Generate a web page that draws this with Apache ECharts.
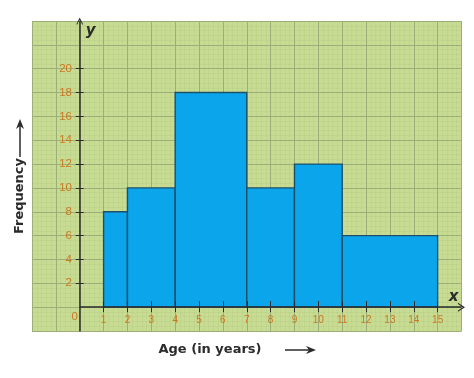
<!DOCTYPE html>
<html>
<head>
<meta charset="utf-8">
<script src="https://cdn.jsdelivr.net/npm/echarts@6/dist/echarts.min.js"></script>
<style>
  html, body { margin: 0; padding: 0; background: #fff; }
  #chart { width: 474px; height: 378px; }
</style>
</head>
<body>
<div id="chart"></div>
<script>
// class intervals (age in years) and their frequencies
const ageStart = [1, 2, 4, 7, 9, 11]
const ageEnd = [2, 4, 7, 9, 11, 15]
const frequency = [8, 10, 18, 10, 12, 6]
// tick labels
const xTicks = [1, 2, 3, 4, 5, 6, 7, 8, 9, 10, 11, 12, 13, 14, 15]
const yTicks = [2, 4, 6, 8, 10, 12, 14, 16, 18, 20]

const labelColor = '#cc7722'
const inkColor = '#2b2b2b'
const chevron = 'path://M0,10 L5,0 L10,10 L8.6,10 L5,3.2 L1.4,10 Z'

const chart = echarts.init(document.getElementById('chart'))

function renderBar (params, api) {
  const p0 = api.coord([api.value(0), 0])
  const p1 = api.coord([api.value(1), api.value(2)])
  return {
    type: 'rect',
    shape: { x: p0[0], y: p1[1], width: p1[0] - p0[0], height: p0[1] - p1[1] },
    style: { fill: '#0ba5ec', stroke: '#1e4f6a', lineWidth: 1.4 }
  }
}

// background grid axis (split lines only)
function bgAxis (min, max, interval) {
  return {
    type: 'value',
    min: min,
    max: max,
    interval: interval,
    axisLine: { show: false, onZero: false },
    axisTick: { show: false },
    axisLabel: { show: false },
    minorTick: { show: false, splitNumber: 5 },
    splitLine: { show: true, lineStyle: { color: '#9caf79', width: 1 } },
    minorSplitLine: { show: true, lineStyle: { color: 'rgba(150,175,105,0.14)', width: 1 } }
  }
}

const option = {
  animation: false,
  grid: {
    left: 32,
    right: 12.5,
    top: 21,
    bottom: 47,
    show: true,
    backgroundColor: '#c7dc92',
    borderWidth: 0
  },
  xAxis: [
    bgAxis(-2, 16, 1),
    {
      type: 'value',
      position: 'bottom',
      min: -2,
      max: 16,
      interval: 1,
      axisLine: { show: false, onZero: true },
      splitLine: { show: false },
      axisTick: { show: true, length: 5, customValues: xTicks, lineStyle: { color: inkColor, width: 1 } },
      axisLabel: {
        customValues: [0].concat(xTicks),
        // labels stay at the grid edge, pull them up to the zero line
        margin: -16,
        color: labelColor,
        fontSize: 10,
        fontFamily: 'Liberation Sans',
        formatter: function (v) {
          return v === 0 ? '{o|0}' : String(v)
        },
        rich: {
          o: { fontSize: 11.5, color: labelColor, padding: [0, 10, 0, 0], lineHeight: 4, fontFamily: 'Liberation Sans' }
        }
      }
    },
    {
      type: 'value',
      position: 'bottom',
      z: 10,
      min: -2,
      max: 16,
      interval: 1,
      axisLine: { show: false, onZero: true },
      splitLine: { show: false },
      axisLabel: { show: false },
      axisTick: { show: true, inside: true, length: 6, customValues: xTicks, lineStyle: { color: inkColor, width: 1 } }
    }
  ],
  yAxis: [
    bgAxis(-2, 24, 2),
    {
      type: 'value',
      position: 'left',
      min: -2,
      max: 24,
      interval: 2,
      name: 'y',
      nameLocation: 'end',
      nameGap: -3,
      nameTextStyle: {
        color: inkColor,
        fontSize: 15,
        fontStyle: 'italic',
        fontWeight: 'bold',
        fontFamily: 'DejaVu Sans',
        align: 'left',
        verticalAlign: 'top',
        padding: [0, 0, 0, 6]
      },
      axisLine: {
        show: true,
        onZero: true,
        symbol: ['none', chevron],
        symbolSize: [9, 7],
        lineStyle: { color: inkColor, width: 1.5 }
      },
      splitLine: { show: false },
      axisTick: { show: true, length: 4, customValues: yTicks, lineStyle: { color: inkColor, width: 1 } },
      axisLabel: {
        customValues: yTicks,
        margin: -40,
        color: labelColor,
        fontSize: 11.5,
        fontFamily: 'Liberation Sans'
      }
    },
    {
      type: 'value',
      position: 'left',
      z: 10,
      min: -2,
      max: 24,
      interval: 2,
      axisLine: { show: false, onZero: true },
      splitLine: { show: false },
      axisLabel: { show: false },
      axisTick: { show: true, inside: true, length: 4, customValues: yTicks, lineStyle: { color: inkColor, width: 1 } }
    }
  ],
  series: [
    {
      type: 'custom',
      xAxisIndex: 1,
      yAxisIndex: 1,
      renderItem: renderBar,
      encode: { x: [0, 1], y: 2 },
      data: ageStart.map(function (s, i) { return [s, ageEnd[i], frequency[i]] }),
      // x axis line from the origin with arrow and name
      markLine: {
        silent: true,
        symbol: ['none', chevron],
        symbolSize: [9, 7],
        lineStyle: { type: 'solid', color: inkColor, width: 1.5 },
        label: {
          show: true,
          position: 'insideEndTop',
          formatter: 'x',
          color: inkColor,
          fontSize: 15,
          fontStyle: 'italic',
          fontWeight: 'bold',
          fontFamily: 'DejaVu Sans',
          distance: 3
        },
        data: [[{ coord: [0, 0] }, { coord: [16, 0] }]]
      }
    }
  ],
  graphic: [
    {
      type: 'text',
      x: 210,
      y: 350,
      style: {
        text: 'Age (in years)',
        font: 'bold 13px "DejaVu Sans"',
        fill: inkColor,
        align: 'center',
        verticalAlign: 'middle',
        textAlign: 'center',
        textVerticalAlign: 'middle'
      }
    },
    { type: 'line', shape: { x1: 285, y1: 350, x2: 310, y2: 350 }, style: { stroke: inkColor, lineWidth: 1.5 } },
    { type: 'polygon', shape: { points: [[316, 350], [306, 346], [309, 350], [306, 354]] }, style: { fill: inkColor } },
    {
      type: 'text',
      x: 20,
      y: 196,
      rotation: Math.PI / 2,
      style: {
        text: 'Frequency',
        font: 'bold 13px "DejaVu Sans"',
        fill: inkColor,
        align: 'center',
        verticalAlign: 'middle',
        textAlign: 'center',
        textVerticalAlign: 'middle'
      }
    },
    { type: 'line', shape: { x1: 20, y1: 157, x2: 20, y2: 126 }, style: { stroke: inkColor, lineWidth: 1.5 } },
    { type: 'polygon', shape: { points: [[20, 119], [16, 129], [20, 126], [24, 129]] }, style: { fill: inkColor } }
  ]
}

chart.setOption(option)
</script>
</body>
</html>
